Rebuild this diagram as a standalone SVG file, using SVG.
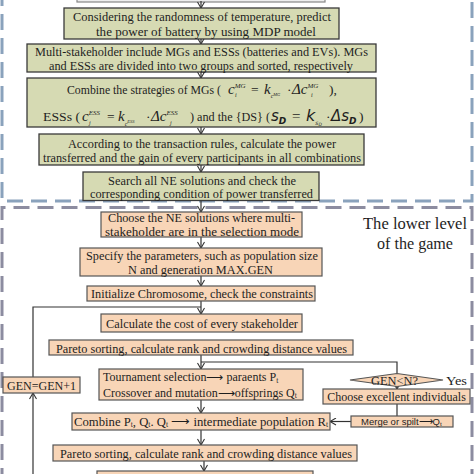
<svg xmlns="http://www.w3.org/2000/svg" width="474" height="474" viewBox="0 0 474 474">
<style>
.up{fill:#d6dab3;stroke:#3a3a3a;stroke-width:1.3}
.lo{fill:#f8d5b7;stroke:#555;stroke-width:1.2}
.t{font-family:"Liberation Serif","Times New Roman",serif;font-size:13.5px;fill:#1e1e1e;text-anchor:middle}
.s{text-anchor:start}
.m{font-family:"Liberation Serif","Times New Roman",serif;font-style:italic;fill:#1e1e1e;text-anchor:start}
.ms{font-family:"DejaVu Sans","Liberation Sans",sans-serif;font-style:italic;fill:#1e1e1e;text-anchor:start}
.c{fill:none;stroke:#333;stroke-width:1.2}
.dash1{fill:none;stroke:#8aa2bc;stroke-width:3;stroke-dasharray:16 8}
.dash2{fill:none;stroke:#8c8ca0;stroke-width:3;stroke-dasharray:16 8}
</style>
<defs>
<marker id="ah" markerWidth="8" markerHeight="8" refX="7" refY="4" orient="auto" markerUnits="userSpaceOnUse">
<path d="M1,0.5 L7,4 L1,7.5" fill="none" stroke="#333" stroke-width="1.1"/>
</marker>
</defs>
<rect width="474" height="474" fill="#ffffff"/>
<g id="frames">
<path class="dash1" d="M2,-10 L2,201 L472,201 L472,-10"/>
<path class="dash2" d="M2,484 L2,207.5 L472,207.5 L472,484"/>
</g>
<g id="top-box"><rect x="77" y="-20" width="248" height="22" fill="#eeeeee" stroke="#888" stroke-width="1.2"/></g>
<g id="connectors">
<line class="c" x1="201" y1="1" x2="201" y2="8" marker-end="url(#ah)"/>
<line class="c" x1="201" y1="39" x2="201" y2="44" marker-end="url(#ah)"/>
<line class="c" x1="201" y1="72" x2="201" y2="78" marker-end="url(#ah)"/>
<line class="c" x1="201" y1="127" x2="201" y2="134" marker-end="url(#ah)"/>
<line class="c" x1="201" y1="165" x2="201" y2="172" marker-end="url(#ah)"/>
<line class="c" x1="201" y1="200" x2="201" y2="212" marker-end="url(#ah)"/>
<line class="c" x1="201" y1="237" x2="201" y2="248" marker-end="url(#ah)"/>
<line class="c" x1="201" y1="276" x2="201" y2="286" marker-end="url(#ah)"/>
<line class="c" x1="201" y1="301" x2="201" y2="314" marker-end="url(#ah)"/>
<polyline class="c" points="33,377 33,307 201,307"/>
<line class="c" x1="201" y1="355" x2="201" y2="369" marker-end="url(#ah)"/>
<polyline class="c" points="397,373.5 397,362 201,362"/>
<line class="c" x1="201" y1="400" x2="201" y2="413" marker-end="url(#ah)"/>
<line class="c" x1="397" y1="386" x2="397" y2="389" marker-end="url(#ah)"/>
<line class="c" x1="397" y1="404" x2="397" y2="416"/>
<line class="c" x1="351" y1="421.5" x2="330" y2="421.5" marker-end="url(#ah)"/>
<line class="c" x1="201" y1="430" x2="201" y2="445" marker-end="url(#ah)"/>
<line class="c" x1="204" y1="461" x2="204" y2="471" marker-end="url(#ah)"/>
<line class="c" x1="33" y1="474" x2="33" y2="393" marker-end="url(#ah)"/>
</g>
<g id="n1"><rect class="up" x="64" y="8" width="275" height="31"/>
<text class="t" x="202" y="20.5" textLength="258" lengthAdjust="spacingAndGlyphs">Considering the randomness of temperature,  predict</text>
<text class="t" x="206" y="35.5" textLength="220" lengthAdjust="spacingAndGlyphs">the power of  battery by using MDP model</text></g>
<g id="n2"><rect class="up" x="27" y="44" width="349" height="28"/>
<text class="t" x="201.5" y="56" textLength="333" lengthAdjust="spacingAndGlyphs">Multi-stakeholder include MGs and ESSs (batteries and EVs). MGs</text>
<text class="t" x="201" y="69.5" textLength="304" lengthAdjust="spacingAndGlyphs">and ESSs are divided into two groups and sorted, respectively</text></g>
<g id="n3"><rect class="up" x="27" y="78" width="349" height="49"/>
<text class="t s" x="67" y="93.5" textLength="154" lengthAdjust="spacingAndGlyphs">Combine the strategies of MGs (</text>
<text class="m" x="228" y="93.5" font-size="15">c<tspan font-size="7" dy="-6">MG</tspan></text>
<text class="m" x="235" y="97" font-size="6">i</text>
<text class="t s" x="251" y="93.5">=</text>
<text class="m" x="264" y="93.5" font-size="15">k<tspan font-size="6" dy="4.5">c</tspan><tspan font-size="4.5" dy="-2.5">MG</tspan></text>
<text class="t s" x="287" y="93.5">·</text>
<text class="m" x="292" y="93.5" font-size="15">Δc<tspan font-size="7" dy="-6">MG</tspan></text>
<text class="m" x="311" y="97" font-size="6">i</text>
<text class="t s" x="329" y="93.5">),</text>
<text class="t s" x="43" y="121" textLength="37" lengthAdjust="spacingAndGlyphs">ESSs (</text>
<text class="m" x="82" y="121" font-size="15">c<tspan font-size="7" dy="-6.5">ESS</tspan></text>
<text class="m" x="89" y="125" font-size="6">j</text>
<text class="t s" x="107" y="121">=</text>
<text class="m" x="118" y="121" font-size="15">k<tspan font-size="6" dy="4.5">c</tspan><tspan font-size="4.5" dy="-2.5">ESS</tspan></text>
<text class="t s" x="146" y="121">·</text>
<text class="m" x="151" y="121" font-size="15">Δc<tspan font-size="7" dy="-6.5">ESS</tspan></text>
<text class="m" x="170" y="125" font-size="6">j</text>
<text class="t s" x="190" y="121" textLength="80" lengthAdjust="spacingAndGlyphs">) and the {DS} (</text>
<text class="ms" x="271" y="121" font-size="15">s<tspan font-size="9" font-weight="bold" dy="3">D</tspan></text>
<text class="t s" x="292" y="121" style="font-size:15px">=</text>
<text class="ms" x="306" y="121" font-size="16">k<tspan font-size="6" dy="3.5">s</tspan><tspan font-size="4.5" dy="1.5">D</tspan></text>
<text class="t s" x="326" y="121">·</text>
<text class="ms" x="331" y="121" font-size="15">Δs<tspan font-size="9" font-weight="bold" dy="3">D</tspan></text>
<text class="t s" x="359" y="121">)</text></g>
<g id="n4"><rect class="up" x="39" y="134" width="325" height="31"/>
<text class="t" x="202" y="147.5" textLength="268" lengthAdjust="spacingAndGlyphs">According to the transaction rules, calculate the power</text>
<text class="t" x="202" y="161.5" textLength="318" lengthAdjust="spacingAndGlyphs">transferred and the gain of every participants in all combinations</text></g>
<g id="n5"><rect class="up" x="83" y="172" width="236" height="28.5"/>
<text class="t" x="202" y="184.5" textLength="188" lengthAdjust="spacingAndGlyphs">Search all NE solutions and check the</text>
<text class="t" x="201.5" y="198" textLength="223" lengthAdjust="spacingAndGlyphs">corresponding condition of power transferred</text></g>
<g id="n6"><rect class="lo" x="101" y="212" width="201" height="25"/>
<text class="t" x="201.5" y="221.5" textLength="187" lengthAdjust="spacingAndGlyphs">Choose the NE solutions where multi-</text>
<text class="t" x="202" y="235.5" textLength="194" lengthAdjust="spacingAndGlyphs">stakeholder are in the selection mode</text></g>
<g id="n7"><rect class="lo" x="80" y="248" width="242" height="28"/>
<text class="t" x="202" y="259.5" textLength="232" lengthAdjust="spacingAndGlyphs">Specify the parameters, such as population size</text>
<text class="t" x="200.5" y="273.5" textLength="145" lengthAdjust="spacingAndGlyphs">N and generation MAX.GEN</text></g>
<g id="n8"><rect class="lo" x="87" y="286" width="228" height="15"/>
<text class="t" x="202" y="298" textLength="222" lengthAdjust="spacingAndGlyphs">Initialize Chromosome, check the constraints</text></g>
<g id="n9"><rect class="lo" x="101" y="314" width="201" height="18"/>
<text class="t" x="202" y="327.5" textLength="192" lengthAdjust="spacingAndGlyphs">Calculate the cost of every stakeholder</text></g>
<g id="n10"><rect class="lo" x="49" y="340" width="304" height="15"/>
<text class="t" x="201.5" y="352.5" textLength="291" lengthAdjust="spacingAndGlyphs">Pareto sorting, calculate rank and crowding distance values</text></g>
<g id="n11"><rect class="lo" x="99" y="369" width="204" height="31"/>
<text class="t s" x="103" y="381" style="font-size:12px">Tournament selection⟶ paraents P<tspan font-size="7.5" dy="1.5">t</tspan></text>
<text class="t s" x="103" y="396.5" style="font-size:12px">Crossover and mutation⟶offsprings Q<tspan font-size="7.5" dy="1.5">t</tspan></text></g>
<g id="n12"><rect class="lo" x="3" y="377" width="77" height="16"/>
<text class="t" x="41.5" y="389.5" textLength="69" lengthAdjust="spacingAndGlyphs">GEN=GEN+1</text></g>
<g id="n13"><polygon class="lo" points="350,380 397,373.5 443,380 397,386.5"/>
<text class="t" x="394.5" y="384.5" style="font-size:12px" textLength="47" lengthAdjust="spacingAndGlyphs">GEN&lt;N?</text>
<text class="t s" x="446" y="385" textLength="21" lengthAdjust="spacingAndGlyphs">Yes</text></g>
<g id="n14"><rect class="lo" x="323" y="389" width="147" height="15"/>
<text class="t" x="396.5" y="401" style="font-size:12px">Choose excellent individuals</text></g>
<g id="n15"><rect class="lo" x="72" y="413" width="258" height="17"/>
<text class="t" x="201" y="425.5" style="font-size:12.7px">Combine P<tspan font-size="7.5" dy="1.5">t</tspan><tspan dy="-1.5">, Q</tspan><tspan font-size="7.5" dy="1.5">t</tspan><tspan dy="-1.5">.  Q</tspan><tspan font-size="7.5" dy="1.5">t</tspan><tspan dy="-1.5"> ⟶ intermediate population R</tspan><tspan font-size="7.5" dy="1.5">t</tspan></text></g>
<g id="n16"><rect class="lo" x="351" y="416" width="102" height="11"/>
<text class="t" x="401.5" y="425" style="font-family:'Liberation Sans',Arial,sans-serif;font-size:9.5px">Merge or spilt⟶Q<tspan font-family="Liberation Serif" font-size="7" dy="1">t</tspan></text></g>
<g id="n17"><rect class="lo" x="53" y="445" width="304" height="16"/>
<text class="t" x="206" y="457.5" textLength="292" lengthAdjust="spacingAndGlyphs">Pareto sorting, calculate rank and crowding distance values</text></g>
<g id="n18"><rect class="lo" x="97" y="471" width="216" height="12"/></g>
<g id="label">
<text class="t" x="415" y="229" style="font-size:16.5px" textLength="104" lengthAdjust="spacingAndGlyphs">The lower level</text>
<text class="t" x="415" y="249" style="font-size:16.5px" textLength="76" lengthAdjust="spacingAndGlyphs">of the game</text>
</g>
</svg>
